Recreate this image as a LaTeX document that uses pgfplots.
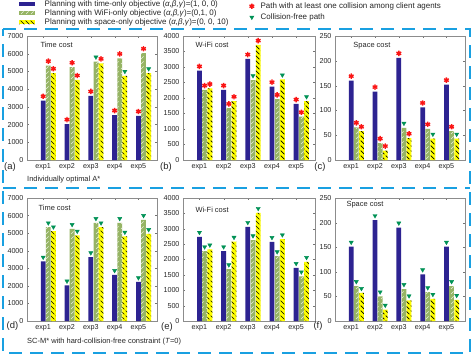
\documentclass[border=0pt]{standalone}
\usepackage{fontspec}
\setmainfont{Liberation Sans}
\usepackage{pgfplots}
\pgfplotsset{compat=1.18}
\usetikzlibrary{patterns}

\definecolor{bblue}{RGB}{45,35,145}
\definecolor{bgreen}{RGB}{150,180,100}
\definecolor{byellow}{RGB}{255,255,0}
\definecolor{mred}{RGB}{250,20,20}
\definecolor{mgreen}{RGB}{0,145,85}
\definecolor{boxblue}{RGB}{25,160,225}
\definecolor{txt}{RGB}{38,38,38}

\pgfdeclarepatternformonly{hatchnw}{\pgfqpoint{-0.5bp}{-0.5bp}}{\pgfqpoint{5.5bp}{5.5bp}}{\pgfqpoint{5bp}{5bp}}{%
  \pgfsetlinewidth{0.7bp}\pgfpathmoveto{\pgfqpoint{0.7bp}{4.3bp}}\pgfpathlineto{\pgfqpoint{4.3bp}{0.7bp}}\pgfusepath{stroke}}
\pgfdeclarepatternformonly{hatchne}{\pgfqpoint{-0.5bp}{-0.5bp}}{\pgfqpoint{5.5bp}{5.5bp}}{\pgfqpoint{5bp}{5bp}}{%
  \pgfsetlinewidth{0.5bp}\pgfpathmoveto{\pgfqpoint{1bp}{1bp}}\pgfpathlineto{\pgfqpoint{3.6bp}{3.6bp}}\pgfusepath{stroke}}

\tikzset{ptitle/.style={anchor=west, font=\fontsize{7.5}{8}\selectfont, text=txt}}

\pgfplotsset{
  panel/.style={scale only axis, width=130bp, height=124bp,
    xmin=0.32, xmax=5.78, ymin=0,
    xtick={1,2,3,4,5}, xticklabels={exp1,exp2,exp3,exp4,exp5},
    xtick pos=both, ytick pos=both, xticklabel pos=lower, yticklabel pos=left,
    tick align=inside, major tick length=2bp,
    axis line style={black!45}, tick style={black!55},
    tick label style={font=\fontsize{7.2}{8}\selectfont, color=txt},
    /pgf/number format/assume math mode=true,
    /pgf/number format/1000 sep={},
    scaled y ticks=false, clip=false},
  legimg/.style={legend image code/.code={\fill[##1] (0bp,-2bp) rectangle (16bp,2bp); \path (25bp,0bp);}},
  marklegimg/.style={legend image code/.code={\path (0bp,0bp) (14bp,0bp); \draw[##1] plot coordinates {(6bp,0bp)};}},
  bluebar/.style={ybar, bar width=0.2, bar shift=0pt, fill=bblue, draw=none, legimg},
  greenbar/.style={ybar, bar width=0.2, bar shift=0pt, fill=bgreen, draw=none,
    postaction={pattern=hatchne, pattern color=white!80!bgreen}, legimg},
  yellowbar/.style={ybar, bar width=0.2, bar shift=0pt, fill=byellow, draw=none,
    postaction={pattern=hatchnw, pattern color=black}, legimg},
  starm/.style={only marks, color=mred, mark=asterisk, mark size=2.7bp,
    mark options={line width=1.4bp, draw=mred}, marklegimg},
  trim/.style={only marks, color=mgreen, mark=triangle*, mark size=2.4bp,
    mark options={rotate=180, fill=mgreen, draw=mgreen}, marklegimg},
}

\begin{document}
\begin{tikzpicture}[x=1bp,y=1bp]
\path[use as bounding box] (0,0) rectangle (474,355);

% ---------------- (a) Time cost, individually optimal
\begin{axis}[panel, at={(27bp,195bp)}, anchor=south west, width=130bp,
  ymax=7000, ytick={0,1000,...,7000},
  legend style={at={(-0.062,1.290)}, anchor=north west, draw=none, fill=none,
    font=\fontsize{8}{9}\selectfont, text=txt, row sep=0.3bp, inner sep=0pt,
    nodes={inner sep=0.6bp}},
  legend cell align=left]
\addplot[bluebar] coordinates {(1,3350) (2,2030) (3,3620) (4,2540) (5,2490)};
\addlegendentry{Planning with time-only objective (\textit{α,β,γ})=(1, 0, 0)}
\addplot[greenbar] coordinates {(1.215,5330) (2.215,5240) (3.215,5560) (4.215,5740) (5.215,6030)};
\addlegendentry{Planning with WiFi-only objective (\textit{α,β,γ})=(0,1, 0)}
\addplot[yellowbar] coordinates {(1.43,4900) (2.43,4520) (3.43,5460) (4.43,4750) (5.43,4900)};
\addlegendentry{Planning with space-only objective (\textit{α,β,γ})=(0, 0, 10)}
\addplot[starm, forget plot] coordinates {(1,3600) (2,2280) (3,3870) (4,2790) (5,2740)
  (1.215,5580) (2.215,5490) (4.215,5990) (5.215,6280) (1.43,5150) (2.43,4770) (3.43,5710)};
\addplot[trim, forget plot] coordinates {(3.215,5810) (4.43,5000) (5.43,5150)};
\node[ptitle] at (rel axis cs:0.077,0.927) {Time cost};
\end{axis}

% ---------------- (b) WiFi cost
\begin{axis}[panel, at={(183bp,195bp)}, anchor=south west, width=132bp,
  ymax=4000, ytick={0,500,...,4000},
  legend style={at={(0.473,1.276)}, anchor=north west, draw=none, fill=none,
    font=\fontsize{8}{9}\selectfont, text=txt, row sep=2.6bp, inner sep=0pt,
    nodes={inner sep=0.6bp}},
  legend cell align=left]
\addplot[bluebar, forget plot] coordinates {(1,2880) (2,2260) (3,3260) (4,2370) (5,1810)};
\addplot[greenbar, forget plot] coordinates {(1.215,2260) (2.215,1670) (3.215,2580) (4.215,1960) (5.215,1400)};
\addplot[yellowbar, forget plot] coordinates {(1.43,2310) (2.43,1900) (3.43,3710) (4.43,2600) (5.43,1900)};
\addplot[starm] coordinates {(1,3020) (2,2400) (3,3400) (4,2510) (5,1950)
  (1.215,2400) (2.215,1810) (4.215,2100) (5.215,1540) (1.43,2450) (2.43,2040) (3.43,3850)};
\addlegendentry{Path with at least one collision among client agents}
\addplot[trim] coordinates {(3.215,2720) (4.43,2740) (5.43,2040)};
\addlegendentry{Collision-free path}
\node[ptitle] at (rel axis cs:0.068,0.927) {W-iFi cost};
\end{axis}

% ---------------- (c) Space cost
\begin{axis}[panel, at={(335bp,195bp)}, anchor=south west, width=130bp,
  ymax=250, ytick={0,50,...,250}]
\addplot[bluebar] coordinates {(1,160) (2,138) (3,206) (4,106) (5,152)};
\addplot[greenbar] coordinates {(1.215,66) (2.215,34) (3.215,65) (4.215,63) (5.215,58)};
\addplot[yellowbar] coordinates {(1.43,58) (2.43,19) (3.43,44) (4.43,43) (5.43,43)};
\addplot[starm] coordinates {(1,169) (2,147) (3,215) (4,115) (5,161)
  (1.215,75) (2.215,43) (4.215,72) (5.215,67) (1.43,67) (2.43,28) (3.43,53)};
\addplot[trim] coordinates {(3.215,74) (4.43,52) (5.43,52)};
\node[ptitle] at (rel axis cs:0.115,0.919) {Space cost};
\end{axis}

% ---------------- (d) Time cost, SC-M*
\begin{axis}[panel, at={(27bp,34bp)}, anchor=south west, width=130bp, height=123bp,
  ymax=7000, ytick={0,1000,...,7000}]
\addplot[bluebar] coordinates {(1,3390) (2,2030) (3,3640) (4,2630) (5,2220)};
\addplot[greenbar] coordinates {(1.215,5340) (2.215,5250) (3.215,5590) (4.215,5590) (5.215,5760)};
\addplot[yellowbar] coordinates {(1.43,5110) (2.43,4870) (3.43,5340) (4.43,4810) (5.43,4960)};
\addplot[trim] coordinates {(1,3630) (2,2270) (3,3880) (4,2870) (5,2460)
  (1.215,5580) (2.215,5490) (3.215,5830) (4.215,5830) (5.215,6000)
  (1.43,5350) (2.43,5110) (3.43,5580) (4.43,5050) (5.43,5200)};
\node[ptitle] at (rel axis cs:0.062,0.919) {Time cost};
\end{axis}

% ---------------- (e) WiFi cost, SC-M*
\begin{axis}[panel, at={(183bp,34bp)}, anchor=south west, width=132bp, height=123bp,
  ymax=4000, ytick={0,500,...,4000}]
\addplot[bluebar] coordinates {(1,2740) (2,2270) (3,3065) (4,2575) (5,1730)};
\addplot[greenbar] coordinates {(1.215,2270) (2.215,1685) (3.215,2630) (4.215,2110) (5.215,1455)};
\addplot[yellowbar] coordinates {(1.43,2330) (2.43,2580) (3.43,3520) (4.43,2660) (5.43,1925)};
\addplot[trim] coordinates {(1,2880) (2,2410) (3,3205) (4,2715) (5,1870)
  (1.215,2410) (2.215,1825) (3.215,2770) (4.215,2250) (5.215,1595)
  (1.43,2470) (2.43,2720) (3.43,3660) (4.43,2800) (5.43,2065)};
\node[ptitle] at (rel axis cs:0.068,0.902) {Wi-Fi cost};
\end{axis}

% ---------------- (f) Space cost, SC-M*
\begin{axis}[panel, at={(335bp,34bp)}, anchor=south west, width=130bp, height=123bp,
  ymax=250, ytick={0,50,...,250}]
\addplot[bluebar] coordinates {(1,151) (2,205) (3,190) (4,95) (5,151)};
\addplot[greenbar] coordinates {(1.215,71) (2.215,50) (3.215,65) (4.215,58.5) (5.215,71)};
\addplot[yellowbar] coordinates {(1.43,57) (2.43,23) (3.43,42) (4.43,45) (5.43,43)};
\addplot[trim] coordinates {(1,160) (2,214) (3,199) (4,104) (5,160)
  (1.215,80) (2.215,59) (3.215,74) (4.215,67.5) (5.215,80)
  (1.43,66) (2.43,32) (3.43,51) (4.43,54) (5.43,52)};
\node[ptitle] at (rel axis cs:0.062,0.943) {Space cost};
\end{axis}

% ---------------- panel labels and captions
\begin{scope}[every node/.style={font=\fontsize{9.5}{10}\selectfont, text=txt, inner sep=0pt}]
\node at (10,188) {(a)};
\node at (166,188) {(b)};
\node at (320,188) {(c)};
\node at (12.5,29) {(d)};
\node at (167,28) {(e)};
\node at (318,29) {(f)};
\end{scope}
\node[anchor=west, inner sep=0pt, font=\fontsize{7.5}{8}\selectfont, text=txt] at (27,175) {Individually optimal A*};
\node[anchor=west, inner sep=0pt, font=\fontsize{7.5}{8}\selectfont, text=txt] at (27,13) {SC-M* with hard-collision-free constraint (\textit{T}=0)};

% ---------------- dashed frame
\draw[boxblue, line width=2.5bp, dash pattern=on 13bp off 8bp] (3,326) -- (470,326) -- (470,2) -- (3,2) -- cycle;
\draw[boxblue, line width=2.5bp, dash pattern=on 13bp off 8bp] (3,167) -- (470,167);
\end{tikzpicture}
\end{document}
